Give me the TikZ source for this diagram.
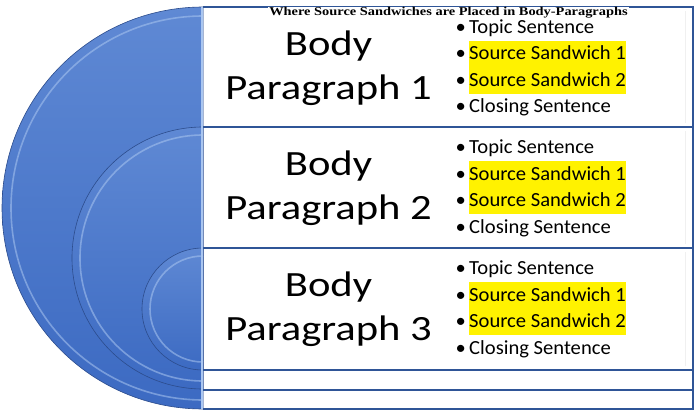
\documentclass[tikz,border=0pt]{standalone}
\usepackage{fontspec}
\setmainfont{Carlito}
\newfontfamily\headfont[FakeStretch=1.2]{Carlito}
\newfontfamily\itemfont[FakeStretch=1.03]{Carlito}
\newfontfamily\titlefont[FakeStretch=1.2]{Liberation Serif}
\usetikzlibrary{positioning}
\definecolor{lineblue}{RGB}{47,85,151}
\definecolor{disktop}{RGB}{95,137,212}
\definecolor{diskbot}{RGB}{60,106,194}
\definecolor{diskrim}{RGB}{44,76,140}
\definecolor{diskglow}{RGB}{170,198,240}
\begin{document}
\begin{tikzpicture}[x=1pt,y=1pt,
  frame/.style={draw=lineblue,line width=1.2pt},
  disk/.style={top color=disktop,bottom color=diskbot,draw=diskrim,line width=0.6pt},
  glow/.style={draw=diskglow,line width=1.6pt,opacity=0.55},
  head/.style={align=center,inner sep=0pt,font=\headfont\fontsize{35.5}{44.3}\selectfont},
  item/.style={anchor=west,inner sep=0pt,font=\itemfont\fontsize{20}{24}\selectfont,text height=19pt,text depth=7.5pt},
  hl/.style={item,fill=yellow},
  dot/.style={inner sep=0pt,font=\itemfont\fontsize{20}{24}\selectfont,text height=19pt,text depth=7.5pt},
  shadow/.style={draw=black!6,line width=1pt}]
\useasboundingbox (0,0) rectangle (698,413);
\fill[white] (0,0) rectangle (698,413);

\draw[disk] (203,406) arc[start angle=90,end angle=270,radius=201] -- cycle;
\draw[glow] (203,397) arc[start angle=90,end angle=270,radius=192];
\draw[disk] (203,286) arc[start angle=90,end angle=270,radius=131] -- cycle;
\draw[glow] (203,278) arc[start angle=90,end angle=270,radius=123];
\draw[disk] (203,165) arc[start angle=90,end angle=270,radius=61] -- cycle;
\draw[glow] (203,157) arc[start angle=90,end angle=270,radius=53];
\draw[diskglow,line width=2pt] (201.5,4) -- (201.5,406);

\draw[shadow] (685,290) -- (685,402);
\draw[shadow] (685,169) -- (685,282);
\draw[shadow] (685,47) -- (685,161);
\draw[frame] (203,406) -- (693,406) -- (693,4) -- (203,4);
\draw[frame] (203,286) -- (693,286);
\draw[frame] (203,165) -- (693,165);
\draw[frame] (203,43) -- (693,43);
\draw[frame] (203,23) -- (693,23);

\node[fill=white,inner sep=1pt,font=\titlefont\bfseries\fontsize{12}{14}\selectfont] (title) at (448.5,400) {Where Source Sandwiches are Placed in Body-Paragraphs};

\node[head] (body1) at (328.5,345) {Body\\Paragraph 1};
\node[head] (body2) at (328.5,224.5) {Body\\Paragraph 2};
\node[head] (body3) at (328.5,103.5) {Body\\Paragraph 3};

\node[item] (topic1) at (469,385.5) {Topic Sentence};
\node[hl] (srcA1) at (469,359) {Source Sandwich 1};
\node[hl] (srcB1) at (469,332.5) {Source Sandwich 2};
\node[item] (close1) at (469,306) {Closing Sentence};
\node[dot,left=3pt of topic1] {\textbullet};
\node[dot,left=3pt of srcA1] {\textbullet};
\node[dot,left=3pt of srcB1] {\textbullet};
\node[dot,left=3pt of close1] {\textbullet};

\node[item] (topic2) at (469,265) {Topic Sentence};
\node[hl] (srcA2) at (469,238.5) {Source Sandwich 1};
\node[hl] (srcB2) at (469,212) {Source Sandwich 2};
\node[item] (close2) at (469,185.5) {Closing Sentence};
\node[dot,left=3pt of topic2] {\textbullet};
\node[dot,left=3pt of srcA2] {\textbullet};
\node[dot,left=3pt of srcB2] {\textbullet};
\node[dot,left=3pt of close2] {\textbullet};

\node[item] (topic3) at (469,144) {Topic Sentence};
\node[hl] (srcA3) at (469,117.5) {Source Sandwich 1};
\node[hl] (srcB3) at (469,91) {Source Sandwich 2};
\node[item] (close3) at (469,64.5) {Closing Sentence};
\node[dot,left=3pt of topic3] {\textbullet};
\node[dot,left=3pt of srcA3] {\textbullet};
\node[dot,left=3pt of srcB3] {\textbullet};
\node[dot,left=3pt of close3] {\textbullet};

\end{tikzpicture}
\end{document}
